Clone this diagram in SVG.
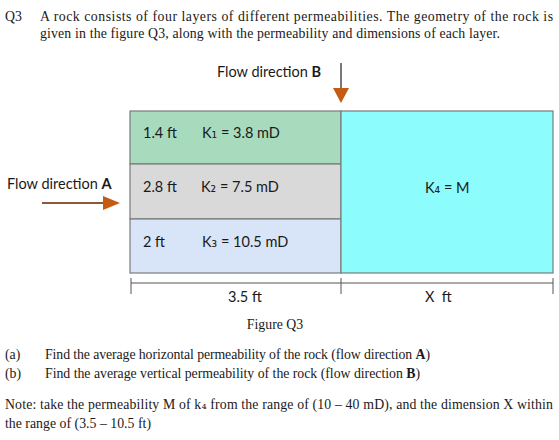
<svg xmlns="http://www.w3.org/2000/svg" width="559" height="440" viewBox="0 0 559 440">
<style>
.serif{font-family:"Liberation Serif","Times New Roman",serif;font-size:13.8px;fill:#1a1a1a}
.sans{font-family:Lato,"Open Sans","Liberation Sans",sans-serif;font-size:14.5px;fill:#1a1a1a}
.sub{font-family:"DejaVu Sans",sans-serif;font-size:14px}
.subs{font-family:"DejaVu Serif",serif;font-size:13px}
.layer{stroke:#7a7a7a;stroke-width:1.2}
.dim{stroke:#555;stroke-width:1;fill:none}
</style>
<rect width="559" height="440" fill="#fff"/>
<text class="serif" x="5" y="21">Q3</text>
<text class="serif" x="40" y="21" textLength="513" lengthAdjust="spacing">A rock consists of four layers of different permeabilities. The geometry of the rock is</text>
<text class="serif" x="40" y="38" textLength="460" lengthAdjust="spacing">given in the figure Q3, along with the permeability and dimensions of each layer.</text>

<g id="layer1"><rect class="layer" x="130" y="111" width="211" height="53" fill="#a8dbbd"/>
<text class="sans" x="143" y="138">1.4 ft</text><text class="sans" x="202" y="138">K<tspan class="sub">₁</tspan> = 3.8 mD</text></g>
<g id="layer2"><rect class="layer" x="130" y="164" width="211" height="55" fill="#d9d9d9"/>
<text class="sans" x="143" y="192">2.8 ft</text><text class="sans" x="201" y="192">K<tspan class="sub">₂</tspan> = 7.5 mD</text></g>
<g id="layer3"><rect class="layer" x="130" y="219" width="211" height="54" fill="#d8e5f8"/>
<text class="sans" x="143" y="247">2 ft</text><text class="sans" x="202" y="247">K<tspan class="sub">₃</tspan> = 10.5 mD</text></g>
<g id="layer4"><rect class="layer" x="341" y="111" width="212" height="162" fill="#8cfcfc"/>
<text class="sans" x="425" y="193">K<tspan class="sub">₄</tspan> = M</text></g>

<g id="labelB"><text class="sans" x="217" y="77">Flow direction <tspan font-weight="bold">B</tspan></text></g>
<g id="labelA"><text class="sans" x="7" y="189">Flow direction <tspan font-weight="bold">A</tspan></text></g>

<g id="connectors">
<line x1="341" y1="63" x2="341" y2="88" stroke="#4d4d4d" stroke-width="1.5"/>
<path d="M333,88 L349,88 L341,103 z" fill="#c55a11"/>
<line x1="42" y1="203" x2="104" y2="203" stroke="#8a5a3a" stroke-width="2"/>
<path d="M103,196 L120,203 L103,210 z" fill="#c55a11"/>
</g>

<g id="dimension">
<line class="dim" x1="131" y1="283" x2="553" y2="283"/>
<line class="dim" x1="131" y1="278" x2="131" y2="294"/>
<line class="dim" x1="341" y1="278" x2="341" y2="294"/>
<line class="dim" x1="553" y1="278" x2="553" y2="294"/>
<text class="sans" x="228" y="302">3.5 ft</text>
<text class="sans" x="425" y="302" xml:space="preserve">X  ft</text>
</g>
<text class="serif" x="275" y="329" text-anchor="middle">Figure Q3</text>

<text class="serif" x="5" y="359">(a)</text>
<text class="serif" x="45" y="359" textLength="385" lengthAdjust="spacing">Find the average horizontal permeability of the rock (flow direction <tspan font-weight="bold">A</tspan>)</text>
<text class="serif" x="5" y="378">(b)</text>
<text class="serif" x="45" y="378" textLength="375" lengthAdjust="spacing">Find the average vertical permeability of the rock (flow direction <tspan font-weight="bold">B</tspan>)</text>
<text class="serif" x="5" y="409" textLength="548" lengthAdjust="spacing">Note: take the permeability M of k<tspan class="subs">₄</tspan> from the range of (10 – 40 mD), and the dimension X within</text>
<text class="serif" x="5" y="428" textLength="146" lengthAdjust="spacing">the range of (3.5 – 10.5 ft)</text>
</svg>
